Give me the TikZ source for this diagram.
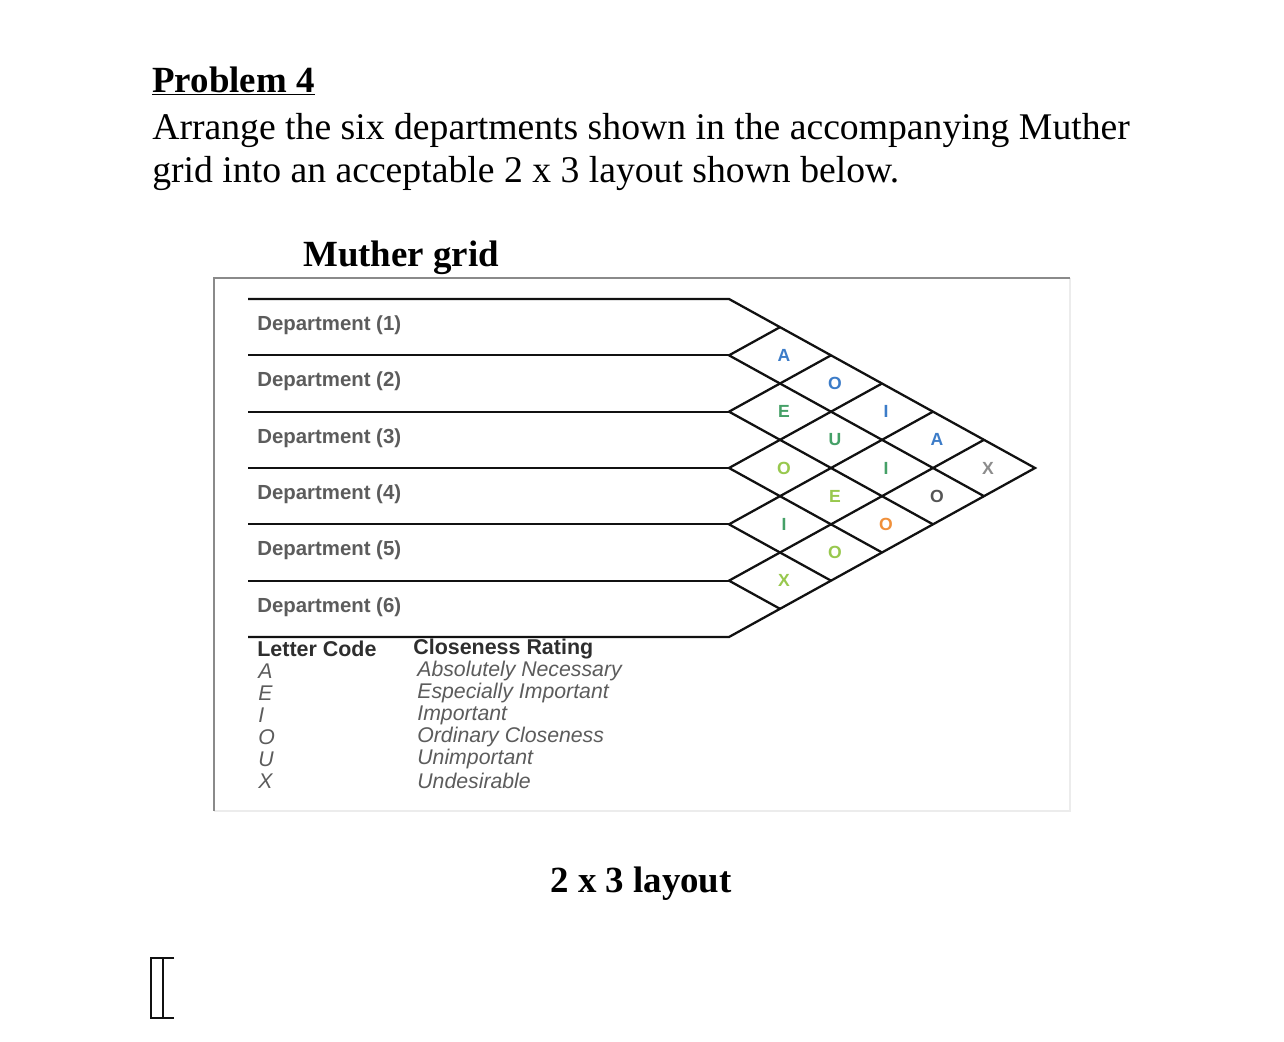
\documentclass[tikz,border=0pt]{standalone}
\usepackage{fontspec}
\setmainfont{Liberation Serif}
\setsansfont{Liberation Sans}
\usetikzlibrary{positioning}
\definecolor{Ink}{HTML}{111111}
\definecolor{DeptGray}{HTML}{5C5C5C}
\definecolor{LegendInk}{HTML}{2E2E2E}
\definecolor{FrameGray}{HTML}{8A8A8A}
\definecolor{FrameLight}{HTML}{ECECEC}
\definecolor{CodeBlue}{HTML}{3C7CC8}
\definecolor{CodeGreen}{HTML}{45A067}
\definecolor{CodeLime}{HTML}{98C84E}
\definecolor{CodeOrange}{HTML}{F0903A}
\definecolor{CodeGray}{HTML}{8C8C8C}
\definecolor{CodeDark}{HTML}{555555}
\tikzset{
  heading/.style={font=\fontsize{21}{24}\selectfont\bfseries, inner sep=0pt, anchor=base west},
  bodytext/.style={font=\fontsize{21.45}{24}\selectfont, inner sep=0pt, anchor=base west},
  deptlabel/.style={font=\sffamily\bfseries\fontsize{11.6}{13}\selectfont, text=DeptGray, inner sep=0pt, anchor=west},
  cellcode/.style={font=\sffamily\bfseries\fontsize{10}{11}\selectfont, inner sep=0pt},
  legendhead/.style={font=\sffamily\bfseries\fontsize{12.2}{14}\selectfont, text=LegendInk, inner sep=0pt, anchor=west},
  legenditem/.style={font=\sffamily\itshape\fontsize{12.1}{14}\selectfont, text=DeptGray, inner sep=0pt, anchor=west},
  gridline/.style={line width=1.3pt, draw=Ink, line join=miter}
}
\begin{document}
\begin{tikzpicture}[x=0.02cm,y=-0.02cm]
        \fill[white] (0,0) rectangle (1284,1041);
        \useasboundingbox (0,0) rectangle (1284,1041);
        % heading and task
        \node[heading] (title) at (152,92) {\underline{Problem 4}};
        \node[bodytext] (task1) at (152,139) {Arrange the six departments shown in the accompanying Muther};
        \node[bodytext] (task2) at (152,182) {grid into an acceptable 2 x 3 layout shown below.};
        \node[heading] (gridtitle) at (303,266) {Muther grid};
        % frame of the grid figure
        \draw[FrameLight, line width=1pt] (1070,278) -- (1070,811) -- (214,811);
        \draw[FrameGray, line width=1.2pt] (1070,278) -- (214,278) -- (214,811);
        % rows and diamonds
        \def\gx{729} \def\gy{299} \def\rh{56.33} \def\cw{51}
        \draw[gridline] (248,\gy) -- (\gx,\gy) -- ({\gx+6*\cw},{\gy+3*\rh})
          -- (\gx,{\gy+6*\rh}) -- (248,{\gy+6*\rh});
        \foreach \k in {2,...,6}{
          \draw[gridline] (248,{\gy+(\k-1)*\rh}) -- (\gx,{\gy+(\k-1)*\rh});
          \draw[gridline] ({\gx+(\k-1)*\cw},{\gy+(\k-1)*\rh/2}) -- (\gx,{\gy+(\k-1)*\rh})
            -- ({\gx+(7-\k)*\cw},{\gy+(\k+5)*\rh/2});
        }
        \foreach \k in {1,...,6}
          \node[deptlabel] (dept\k) at (257,{\gy+(\k-0.5)*\rh-2}) {Department (\k)};
        \foreach \i/\j/\code/\col in {1/2/A/CodeBlue,1/3/O/CodeBlue,1/4/I/CodeBlue,
            1/5/A/CodeBlue,1/6/X/CodeGray,2/3/E/CodeGreen,2/4/U/CodeGreen,
            2/5/I/CodeGreen,2/6/O/CodeDark,3/4/O/CodeLime,3/5/E/CodeLime,
            3/6/O/CodeOrange,4/5/I/CodeGreen,4/6/O/CodeLime,5/6/X/CodeLime}
          \node[cellcode, text=\col] (cell\i\j) at ({\gx+(\j-\i)*\cw+4},{\gy+(\i+\j-1)*\rh/2}) {\code};
        % legend
        \node[legendhead] (lettercode) at (257,649) {Letter Code};
        \node[legendhead] (rating) at (413,649) {Closeness Rating};
        \foreach \code/\closeness [count=\n] in {A/Absolutely Necessary,E/Especially Important,
            I/Important,O/Ordinary Closeness,U/Unimportant,X/Undesirable}{
          \node[legenditem] (code\code) at (258,{649+\n*22}) {\code};
          \node[legenditem] (rate\code) at (417,{649+\n*22}) {\closeness};
        }
        \node[heading] (layouttitle) at (550,892) {2 x 3 layout};
        % cursor mark
        \draw[Ink, line width=1.1pt] (174,958) -- (151,958) -- (151,1018) -- (174,1018)
          (163,958) -- (163,1018);
      \end{tikzpicture}
\end{document}
